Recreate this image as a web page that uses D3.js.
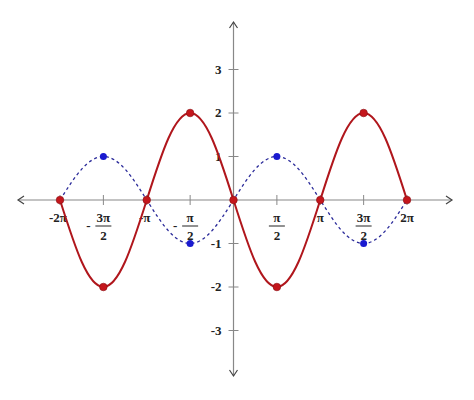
<!DOCTYPE html><html><head><script src="https://cdn.jsdelivr.net/npm/d3@7"></script>
<style>body{margin:0;background:#fff} text{font-family:"Liberation Serif","DejaVu Serif",serif;font-weight:bold;font-size:13px}</style></head><body><svg id="c" width="474" height="400"></svg>
<script>
const PI=Math.PI;
// sample points (x in multiples of pi/4)
const xSteps=[-8,-7,-6,-5,-4,-3,-2,-1,0,1,2,3,4,5,6,7,8];
const redVals=[0,-1.42,-2,-1.42,0,1.42,2,1.42,0,-1.42,-2,-1.42,0,1.42,2,1.42,0];
const blueVals=[0,0.71,1,0.71,0,-0.71,-1,-0.71,0,0.71,1,0.71,0,-0.71,-1,-0.71,0];
const redDots=[[-8,0],[-6,-2],[-4,0],[-2,2],[0,0],[2,-2],[4,0],[6,2],[8,0]];
const blueDots=[[-6,1],[-2,-1],[2,1],[6,-1]];
const xTicks=[[-8,"-2π"],[-6,"-3π/2"],[-4,"-π"],[-2,"-π/2"],[2,"π/2"],[4,"π"],[6,"3π/2"],[8,"2π"]];
const yTicks=[-3,-2,-1,1,2,3];

const svg=d3.select("#c");
const x=d3.scaleLinear().domain([-2*PI,2*PI]).range([60,407]);
const y=d3.scaleLinear().domain([0,1]).range([200,156.5]);
const gray="#888";
svg.append("line").attr("x1",18).attr("x2",452).attr("y1",200).attr("y2",200).attr("stroke",gray).attr("stroke-width",1.2);
svg.append("line").attr("x1",x(0)).attr("x2",x(0)).attr("y1",22).attr("y2",376).attr("stroke",gray).attr("stroke-width",1.2);
const arr=(pts)=>svg.append("path").attr("d",d3.line()(pts)).attr("fill","none").attr("stroke","#444").attr("stroke-width",1.2);
arr([[24,196],[18,200],[24,204]]);arr([[446,196],[452,200],[446,204]]);
arr([[x(0)-4,28],[x(0),22],[x(0)+4,28]]);arr([[x(0)-4,370],[x(0),376],[x(0)+4,370]]);
xTicks.forEach(([s,l])=>{
  const px=x(s*PI/4);
  svg.append("line").attr("x1",px).attr("x2",px).attr("y1",195).attr("y2",205).attr("stroke",gray);
  const g=svg.append("g").attr("fill","#222").attr("text-anchor","middle");
  if(l.includes("/")){
    const neg=l.startsWith("-"); const num=l.replace("-","").split("/")[0];
    g.append("text").attr("x",px).attr("y",222).text(num);
    g.append("line").attr("x1",px-8).attr("x2",px+8).attr("y1",226).attr("y2",226).attr("stroke","#222");
    g.append("text").attr("x",px).attr("y",240).text("2");
    if(neg) g.append("text").attr("x",px-15).attr("y",230).text("-");
  } else g.append("text").attr("x",px+(s<0?-2:0)).attr("y",222).text(l);
});
yTicks.forEach(v=>{
  const py=y(v);
  svg.append("line").attr("x1",x(0)-5).attr("x2",x(0)+5).attr("y1",py).attr("y2",py).attr("stroke",gray);
  svg.append("text").attr("x",x(0)-12).attr("y",py+4).attr("text-anchor","end").attr("fill","#222").text(v);
});
const line=d3.line().x((d,i)=>x(xSteps[i]*PI/4)).y(d=>y(d)).curve(d3.curveNatural);
svg.append("path").attr("d",line(blueVals)).attr("fill","none").attr("stroke","#2b2b9a").attr("stroke-width",1.3).attr("stroke-dasharray","3,3");
svg.append("path").attr("d",line(redVals)).attr("fill","none").attr("stroke","#b0161c").attr("stroke-width",2);
blueDots.forEach(([s,v])=>svg.append("circle").attr("cx",x(s*PI/4)).attr("cy",y(v)).attr("r",3.5).attr("fill","#1a1ad0"));
redDots.forEach(([s,v])=>svg.append("circle").attr("cx",x(s*PI/4)).attr("cy",y(v)).attr("r",3.8).attr("fill","#c4161c").attr("stroke","#8a0e12").attr("stroke-width",0.6));
</script></body></html>
